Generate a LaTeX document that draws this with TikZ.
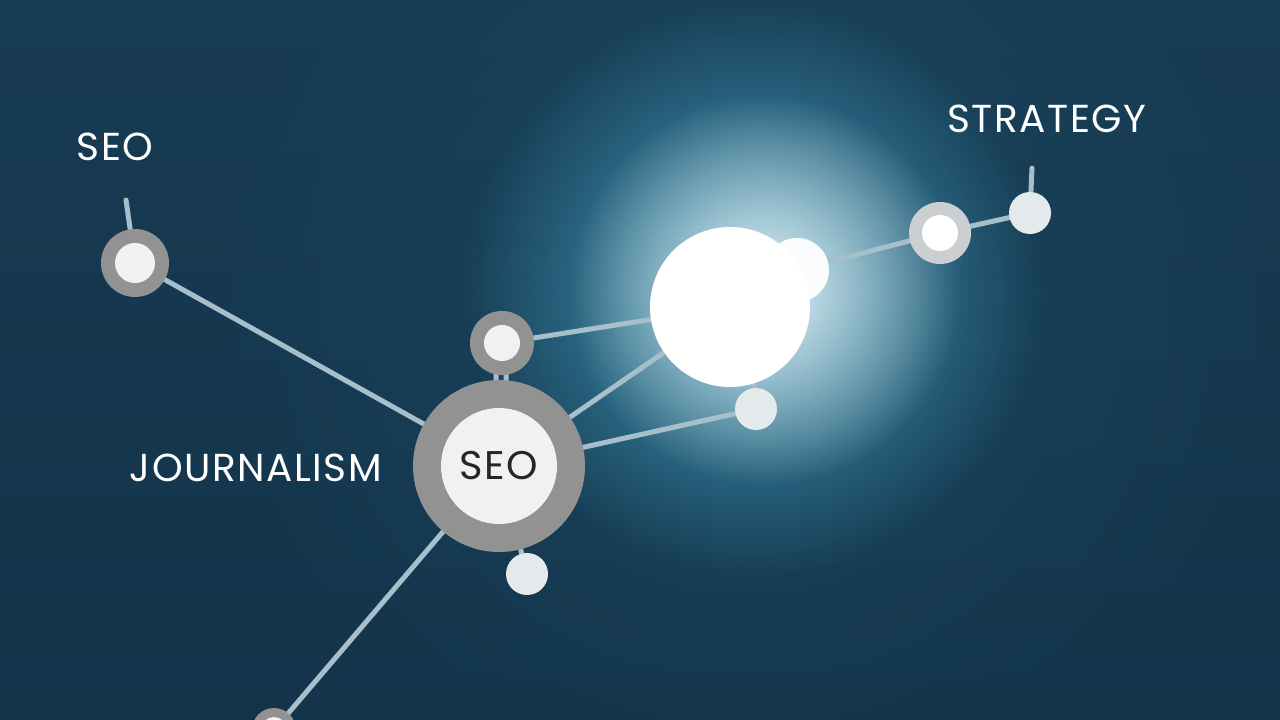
\documentclass[tikz,border=0pt]{standalone}
\usepackage{fontspec}
\setmainfont{Poppins}
\newfontfamily\lblfont[LetterSpace=4]{Poppins}
\usetikzlibrary{fadings}
\pgfdeclarelayer{back}
\pgfdeclarelayer{wires}
\pgfsetlayers{back,wires,main}
\definecolor{bgc}{HTML}{173B53}
\definecolor{bgd}{HTML}{13344B}
\definecolor{glowc}{HTML}{4FB8D8}
\definecolor{wirec}{HTML}{A6BFCB}
\definecolor{ringc}{HTML}{929292}
\definecolor{ringl}{HTML}{CBCFD1}
\definecolor{innerc}{HTML}{F0F1F1}
\definecolor{dotc}{HTML}{E4E9EB}
\definecolor{txtd}{HTML}{262626}
\tikzfading[name=glowfade, inner color=transparent!0, outer color=transparent!100]
\tikzset{
  wire/.style={draw=wirec, line width=5pt, line cap=round},
  ringnode/.style={circle, fill=ringc, inner sep=0pt, minimum size=#1},
  lightring/.style={circle, fill=ringl, inner sep=0pt, minimum size=#1},
  innernode/.style={circle, fill=innerc, inner sep=0pt, minimum size=#1},
  dotnode/.style={circle, fill=dotc, inner sep=0pt, minimum size=#1},
  lbl/.style={text=white, font=\lblfont\fontsize{39}{44}\selectfont, inner sep=0pt},
}
\begin{document}
\begin{tikzpicture}[x=1pt,y=-1pt]
\useasboundingbox (0,0) rectangle (1280,720);
\begin{pgfonlayer}{back}
  \shade[top color=bgc, bottom color=bgd] (0,0) rectangle (1280,720);
  \fill[glowc, path fading=glowfade, fill opacity=0.1] (745,295) circle (540);
  \fill[glowc, path fading=glowfade, fill opacity=0.8] (755,292) circle (290);
  \fill[white, path fading=glowfade, fill opacity=0.85] (765,290) circle (195);
\end{pgfonlayer}
\node[ringnode=172] (main) at (499,466) {};
\node[innernode=116, font=\lblfont\fontsize{40}{44}\selectfont, text=txtd] (maininner) at (499,466) {SEO};
\node[ringnode=64] (top) at (502,343) {};
\node[innernode=36] (topin) at (502,343) {};
\node[ringnode=68] (tl) at (135,263) {};
\node[innernode=40] (tlin) at (135,263) {};
\coordinate (tlstub) at (126,200);
\node[ringnode=44] (bl) at (274,730) {};
\node[innernode=26] (blin) at (274,730) {};
\node[dotnode=42] (bdot) at (527,574) {};
\node[circle, fill=white, inner sep=0pt, minimum size=64, opacity=0.95] (bump) at (797,270) {};
\node[circle, fill=white, inner sep=0pt, minimum size=160] (sphere) at (730,307) {};
\node[dotnode=42] (rdot) at (756,409) {};
\node[lightring=62] (strat) at (940,233) {};
\node[innernode=36, fill=white] (stratin) at (940,233) {};
\node[dotnode=42] (sdot) at (1030,213) {};
\coordinate (sstub) at (1032,168);
\begin{pgfonlayer}{wires}
  \draw[wire] (main) -- (tl);
  \draw[wire] (tl) -- (tlstub);
  \draw[wire] (main) -- (bl);
  \draw[wire] ([xshift=-5pt]top.center) -- ([xshift=-5pt]main.center);
  \draw[wire] ([xshift=5pt]top.center) -- ([xshift=5pt]main.center);
  \draw[wire] (main) -- (bdot);
  \draw[wire] (top) -- (sphere);
  \draw[wire] (main) -- (sphere);
  \draw[wire] (main) -- (rdot);
  \draw[wire] (rdot) -- ([xshift=-8pt]rdot.center |- sphere.center);
  \draw[wire] (bump) -- (strat);
  \draw[wire] (strat) -- (sdot);
  \draw[wire] (sdot) -- (sstub);
\end{pgfonlayer}
\node[lbl] (lseo) at (115,147) {SEO};
\node[lbl] (ljour) at (256,468) {JOURNALISM};
\node[lbl] (lstrat) at (1047,119) {STRATEGY};
\end{tikzpicture}
\end{document}
